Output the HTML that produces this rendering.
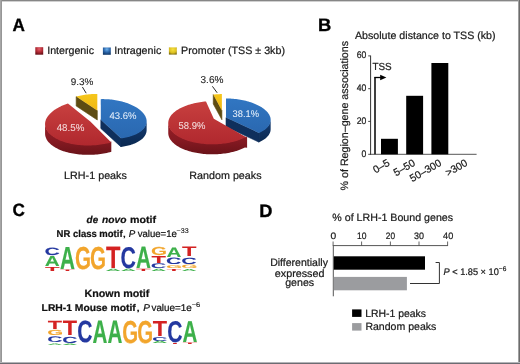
<!DOCTYPE html>
<html><head><meta charset="utf-8"><title>LRH-1 figure</title>
<style>html,body{margin:0;padding:0;background:#fff;}svg{display:block;}</style>
</head><body>
<svg width="520" height="364" viewBox="0 0 520 364" font-family="'Liberation Sans', Arial, Helvetica, sans-serif" text-rendering="geometricPrecision">
<defs>
<linearGradient id="gr" x1="0" y1="0" x2="0" y2="1"><stop offset="0" stop-color="#c8403f"/><stop offset="1" stop-color="#b0282e"/></linearGradient>
<linearGradient id="grw" x1="0" y1="0" x2="0" y2="1"><stop offset="0" stop-color="#941e26"/><stop offset="0.55" stop-color="#861a22"/><stop offset="1" stop-color="#6a1319"/></linearGradient>
<linearGradient id="gb" x1="0" y1="0" x2="0" y2="1"><stop offset="0" stop-color="#3176c2"/><stop offset="1" stop-color="#2a68b0"/></linearGradient>
<linearGradient id="gbw" x1="0" y1="0" x2="0" y2="1"><stop offset="0" stop-color="#153c72"/><stop offset="1" stop-color="#0a2850"/></linearGradient>
<linearGradient id="gy" x1="0" y1="0" x2="0" y2="1"><stop offset="0" stop-color="#f5c61c"/><stop offset="1" stop-color="#f0b810"/></linearGradient>
<radialGradient id="lr" cx="0.5" cy="0.25" r="0.75"><stop offset="0" stop-color="#e4606c"/><stop offset="0.55" stop-color="#b22a34"/><stop offset="1" stop-color="#6a1018"/></radialGradient>
<radialGradient id="lb" cx="0.5" cy="0.25" r="0.75"><stop offset="0" stop-color="#6cb0ec"/><stop offset="0.55" stop-color="#2a64a8"/><stop offset="1" stop-color="#123a6a"/></radialGradient>
<radialGradient id="ly" cx="0.5" cy="0.3" r="0.75"><stop offset="0" stop-color="#f6e040"/><stop offset="0.6" stop-color="#dcc020"/><stop offset="1" stop-color="#7a6a10"/></radialGradient>
</defs>
<rect x="0" y="0" width="520" height="364" fill="#fff"/>
<polygon points="97.30,110.60 76.17,96.61 76.17,106.01 97.30,120.00" fill="#5e4c12" stroke="#5e4c12" stroke-width="0.6" stroke-linejoin="round"/>
<polygon points="97.30,110.60 97.30,93.90 95.90,93.91 94.51,93.94 93.12,94.00 91.73,94.07 90.36,94.17 88.99,94.29 87.63,94.43 86.28,94.59 84.95,94.77 83.64,94.98 82.34,95.20 81.06,95.44 79.80,95.71 78.57,95.99 77.36,96.29 76.17,96.61" fill="url(#gy)"/>
<polygon points="100.80,119.80 121.00,138.29 121.00,146.89 100.80,128.40" fill="#0f2f5c" stroke="#0f2f5c" stroke-width="0.6" stroke-linejoin="round"/>
<polygon points="121.00,137.49 122.27,137.33 123.52,137.14 124.75,136.93 125.96,136.69 127.15,136.43 128.32,136.15 129.46,135.85 130.58,135.53 131.66,135.18 132.72,134.82 133.75,134.43 134.74,134.02 135.71,133.60 136.63,133.15 137.53,132.69 138.38,132.21 139.20,131.71 139.98,131.20 140.72,130.67 141.42,130.12 142.08,129.56 142.70,128.98 143.28,128.40 143.81,127.79 144.29,127.18 144.74,126.56 145.13,125.92 145.49,125.28 145.79,124.63 146.05,123.97 146.26,123.30 146.43,122.63 146.54,121.95 146.61,121.27 146.64,120.58 146.64,129.98 146.61,130.67 146.54,131.35 146.43,132.03 146.26,132.70 146.05,133.37 145.79,134.03 145.49,134.68 145.13,135.32 144.74,135.96 144.29,136.58 143.81,137.19 143.28,137.80 142.70,138.38 142.08,138.96 141.42,139.52 140.72,140.07 139.98,140.60 139.20,141.11 138.38,141.61 137.53,142.09 136.63,142.55 135.71,143.00 134.74,143.42 133.75,143.83 132.72,144.22 131.66,144.58 130.58,144.93 129.46,145.25 128.32,145.55 127.15,145.83 125.96,146.09 124.75,146.33 123.52,146.54 122.27,146.73 121.00,146.89" fill="url(#gbw)"/>
<polygon points="100.80,119.80 121.00,138.29 122.27,138.13 123.52,137.94 124.75,137.73 125.97,137.49 127.16,137.23 128.32,136.95 129.47,136.65 130.58,136.33 131.67,135.98 132.73,135.61 133.75,135.23 134.75,134.82 135.71,134.40 136.64,133.95 137.53,133.49 138.39,133.01 139.21,132.51 139.99,131.99 140.73,131.46 141.43,130.91 142.09,130.35 142.71,129.78 143.28,129.19 143.81,128.59 144.30,127.98 144.74,127.35 145.14,126.72 145.49,126.07 145.79,125.42 146.05,124.76 146.26,124.09 146.43,123.42 146.55,122.74 146.61,122.06 146.64,121.37 146.61,120.68 146.54,119.98 146.42,119.29 146.25,118.60 146.03,117.90 145.77,117.21 145.46,116.52 145.11,115.83 144.70,115.15 144.26,114.47 143.77,113.79 143.23,113.13 142.65,112.47 142.03,111.81 141.37,111.17 140.67,110.54 139.92,109.91 139.14,109.30 138.32,108.70 137.46,108.11 136.56,107.54 135.63,106.98 134.66,106.43 133.66,105.90 132.63,105.38 131.57,104.88 130.48,104.40 129.37,103.94 128.22,103.50 127.05,103.07 125.86,102.66 124.64,102.28 123.41,101.91 122.15,101.57 120.88,101.24 119.59,100.94 118.29,100.66 116.98,100.40 115.65,100.17 114.31,99.96 112.97,99.77 111.62,99.60 110.26,99.46 108.90,99.35 107.54,99.25 106.18,99.18 104.83,99.14 103.47,99.12 102.12,99.12 100.78,99.15" fill="url(#gb)"/>
<polygon points="45.08,123.37 45.11,124.18 45.20,124.98 45.35,125.78 45.55,126.58 45.82,127.37 46.13,128.16 46.51,128.93 46.94,129.70 47.43,130.45 47.97,131.20 48.57,131.93 49.22,132.65 49.92,133.36 50.67,134.05 51.48,134.73 52.33,135.39 53.24,136.03 54.19,136.66 55.18,137.26 56.23,137.85 57.31,138.42 58.44,138.96 59.61,139.49 60.82,139.99 62.07,140.47 63.36,140.93 64.68,141.36 66.03,141.76 67.42,142.15 68.83,142.50 70.27,142.83 71.74,143.13 73.24,143.41 74.75,143.66 76.29,143.88 77.85,144.08 79.42,144.24 81.01,144.38 82.61,144.49 84.22,144.57 85.84,144.62 87.47,144.65 89.10,144.64 90.73,144.61 92.37,144.55 94.01,144.46 95.64,144.34 97.26,144.19 98.88,144.01 100.49,143.81 102.09,143.58 103.67,143.32 105.24,143.03 106.79,142.72 108.33,142.38 109.84,142.01 111.32,141.62 111.32,151.82 109.84,152.21 108.33,152.58 106.79,152.92 105.24,153.23 103.67,153.52 102.09,153.78 100.49,154.01 98.88,154.21 97.26,154.39 95.64,154.54 94.01,154.66 92.37,154.75 90.73,154.81 89.10,154.84 87.47,154.85 85.84,154.82 84.22,154.77 82.61,154.69 81.01,154.58 79.42,154.44 77.85,154.28 76.29,154.08 74.75,153.86 73.24,153.61 71.74,153.33 70.27,153.03 68.83,152.70 67.42,152.35 66.03,151.96 64.68,151.56 63.36,151.13 62.07,150.67 60.82,150.19 59.61,149.69 58.44,149.16 57.31,148.62 56.23,148.05 55.18,147.46 54.19,146.86 53.24,146.23 52.33,145.59 51.48,144.93 50.67,144.25 49.92,143.56 49.22,142.85 48.57,142.13 47.97,141.40 47.43,140.65 46.94,139.90 46.51,139.13 46.13,138.36 45.82,137.57 45.55,136.78 45.35,135.98 45.20,135.18 45.11,134.38 45.08,133.57" fill="url(#grw)"/>
<polygon points="90.30,121.60 67.96,103.52 66.57,103.99 65.21,104.48 63.89,104.99 62.59,105.53 61.34,106.09 60.12,106.67 58.94,107.26 57.80,107.88 56.70,108.51 55.64,109.16 54.63,109.83 53.66,110.51 52.74,111.21 51.87,111.92 51.05,112.65 50.27,113.38 49.55,114.13 48.88,114.89 48.26,115.66 47.69,116.43 47.18,117.22 46.73,118.01 46.32,118.80 45.98,119.60 45.69,120.40 45.45,121.21 45.27,122.02 45.15,122.83 45.09,123.63 45.08,124.44 45.13,125.24 45.24,126.04 45.41,126.84 45.63,127.63 45.91,128.41 46.24,129.19 46.63,129.96 47.08,130.72 47.58,131.47 48.13,132.20 48.74,132.93 49.40,133.64 50.11,134.34 50.87,135.03 51.69,135.69 52.55,136.35 53.46,136.98 54.41,137.60 55.42,138.20 56.46,138.78 57.55,139.34 58.68,139.87 59.85,140.39 61.07,140.89 62.31,141.36 63.60,141.81 64.92,142.23 66.27,142.63 67.65,143.01 69.06,143.36 70.50,143.68 71.96,143.98 73.45,144.25 74.96,144.49 76.49,144.71 78.04,144.90 79.61,145.06 81.19,145.20 82.78,145.30 84.38,145.38 85.99,145.43 87.61,145.45 89.24,145.44 90.86,145.41 92.49,145.34 94.11,145.25 95.73,145.13 97.35,144.98 98.96,144.80 100.56,144.60 102.14,144.37 103.72,144.11 105.28,143.82 106.82,143.51 108.34,143.18 109.84,142.81 111.32,142.42" fill="url(#gr)"/>
<polygon points="221.90,110.40 213.26,94.56 213.26,103.96 221.90,119.80" fill="#5e4c12" stroke="#5e4c12" stroke-width="0.6" stroke-linejoin="round"/>
<polygon points="221.90,110.40 221.90,94.10 220.45,94.11 219.00,94.15 217.55,94.21 216.11,94.30 214.68,94.42 213.26,94.56" fill="url(#gy)"/>
<polygon points="226.00,117.50 259.04,133.02 259.04,142.22 226.00,126.70" fill="#0f2f5c" stroke="#0f2f5c" stroke-width="0.6" stroke-linejoin="round"/>
<polygon points="259.04,132.22 260.02,131.77 260.97,131.30 261.87,130.81 262.74,130.31 263.57,129.79 264.36,129.25 265.10,128.70 265.80,128.14 266.45,127.56 267.07,126.97 267.63,126.37 268.15,125.75 268.62,125.13 269.04,124.50 269.42,123.86 269.75,123.21 270.02,122.55 270.25,121.88 270.43,121.21 270.56,120.54 270.64,119.86 270.66,119.18 270.66,129.18 270.64,129.86 270.56,130.54 270.43,131.21 270.25,131.88 270.02,132.55 269.75,133.21 269.42,133.86 269.04,134.50 268.62,135.13 268.15,135.75 267.63,136.37 267.07,136.97 266.45,137.56 265.80,138.14 265.10,138.70 264.36,139.25 263.57,139.79 262.74,140.31 261.87,140.81 260.97,141.30 260.02,141.77 259.04,142.22" fill="url(#gbw)"/>
<polygon points="226.00,117.50 259.04,133.02 260.03,132.56 260.98,132.09 261.89,131.60 262.77,131.09 263.60,130.57 264.39,130.03 265.14,129.47 265.84,128.90 266.50,128.32 267.11,127.73 267.67,127.12 268.19,126.50 268.66,125.87 269.09,125.23 269.46,124.58 269.78,123.93 270.05,123.27 270.28,122.60 270.45,121.92 270.57,121.24 270.64,120.56 270.66,119.87 270.63,119.18 270.55,118.49 270.42,117.80 270.24,117.11 270.00,116.42 269.72,115.73 269.38,115.04 269.00,114.36 268.57,113.69 268.09,113.01 267.56,112.35 266.99,111.69 266.36,111.04 265.70,110.40 264.98,109.77 264.23,109.15 263.43,108.54 262.59,107.94 261.71,107.36 260.78,106.78 259.82,106.23 258.83,105.68 257.79,105.16 256.72,104.65 255.62,104.15 254.49,103.67 253.32,103.21 252.13,102.77 250.90,102.35 249.65,101.95 248.38,101.57 247.08,101.21 245.76,100.87 244.43,100.55 243.07,100.25 241.70,99.98 240.31,99.73 238.91,99.50 237.49,99.29 236.07,99.11 234.64,98.95 233.21,98.82 231.77,98.70 230.32,98.62 228.88,98.56 227.44,98.52 226.00,98.50" fill="url(#gb)"/>
<polygon points="168.25,122.21 168.28,122.96 168.36,123.72 168.49,124.47 168.68,125.21 168.93,125.95 169.22,126.69 169.57,127.42 169.97,128.15 170.43,128.87 170.93,129.57 171.49,130.27 172.10,130.96 172.76,131.64 173.46,132.31 174.22,132.96 175.02,133.60 175.87,134.23 176.76,134.84 177.70,135.44 178.67,136.02 179.70,136.58 180.76,137.12 181.86,137.65 183.00,138.16 184.17,138.64 185.38,139.11 186.62,139.55 187.90,139.98 189.20,140.38 190.54,140.76 191.90,141.12 193.28,141.45 194.69,141.76 196.13,142.04 197.58,142.31 199.05,142.54 200.54,142.75 202.04,142.94 203.56,143.10 205.09,143.23 206.63,143.34 208.17,143.42 209.72,143.48 211.27,143.51 212.83,143.51 214.39,143.49 215.94,143.44 217.49,143.36 219.04,143.26 220.57,143.13 222.10,142.98 223.62,142.80 225.12,142.60 226.61,142.37 228.08,142.11 229.53,141.83 230.97,141.53 232.38,141.20 233.76,140.85 235.13,140.48 236.46,140.08 237.77,139.66 239.04,139.22 240.28,138.76 241.49,138.28 242.67,137.78 243.80,137.26 244.90,136.72 247.10,136.90 247.10,147.70 244.90,147.52 243.80,148.06 242.67,148.58 241.49,149.08 240.28,149.56 239.04,150.02 237.77,150.46 236.46,150.88 235.13,151.28 233.76,151.65 232.38,152.00 230.97,152.33 229.53,152.63 228.08,152.91 226.61,153.17 225.12,153.40 223.62,153.60 222.10,153.78 220.57,153.93 219.04,154.06 217.49,154.16 215.94,154.24 214.39,154.29 212.83,154.31 211.27,154.31 209.72,154.28 208.17,154.22 206.63,154.14 205.09,154.03 203.56,153.90 202.04,153.74 200.54,153.55 199.05,153.34 197.58,153.11 196.13,152.84 194.69,152.56 193.28,152.25 191.90,151.92 190.54,151.56 189.20,151.18 187.90,150.78 186.62,150.35 185.38,149.91 184.17,149.44 183.00,148.96 181.86,148.45 180.76,147.92 179.70,147.38 178.67,146.82 177.70,146.24 176.76,145.64 175.87,145.03 175.02,144.40 174.22,143.76 173.46,143.11 172.76,142.44 172.10,141.76 171.49,141.07 170.93,140.37 170.43,139.67 169.97,138.95 169.57,138.22 169.22,137.49 168.93,136.75 168.68,136.01 168.49,135.27 168.36,134.52 168.28,133.76 168.25,133.01" fill="url(#grw)"/>
<polygon points="213.80,118.80 206.01,101.47 204.47,101.60 202.94,101.77 201.42,101.96 199.91,102.18 198.42,102.42 196.95,102.68 195.50,102.98 194.07,103.29 192.66,103.63 191.28,103.99 189.92,104.38 188.59,104.79 187.29,105.22 186.03,105.67 184.79,106.15 183.59,106.64 182.43,107.15 181.31,107.69 180.22,108.24 179.17,108.81 178.17,109.39 177.21,110.00 176.29,110.62 175.41,111.25 174.59,111.90 173.81,112.56 173.07,113.23 172.39,113.92 171.76,114.61 171.17,115.32 170.64,116.04 170.16,116.76 169.74,117.49 169.36,118.23 169.04,118.97 168.78,119.72 168.56,120.47 168.41,121.22 168.30,121.98 168.25,122.74 168.26,123.49 168.32,124.25 168.44,125.01 168.61,125.76 168.84,126.50 169.12,127.25 169.45,127.99 169.84,128.72 170.28,129.44 170.77,130.16 171.32,130.86 171.91,131.56 172.56,132.24 173.25,132.92 174.00,133.58 174.79,134.23 175.63,134.86 176.52,135.48 177.45,136.08 178.42,136.67 179.44,137.24 180.49,137.79 181.59,138.32 182.72,138.84 183.90,139.33 185.10,139.81 186.35,140.26 187.62,140.69 188.93,141.10 190.26,141.48 191.63,141.85 193.02,142.19 194.43,142.50 195.87,142.79 197.32,143.06 198.80,143.30 200.29,143.52 201.80,143.71 203.32,143.87 204.86,144.01 206.40,144.13 207.96,144.21 209.51,144.27 211.08,144.30 212.64,144.31 214.20,144.29 215.77,144.25 217.33,144.17 218.88,144.07 220.43,143.95 221.96,143.80 223.49,143.62 225.00,143.41 226.50,143.19 227.98,142.93 229.44,142.65 230.88,142.35 232.30,142.02 233.70,141.67 235.07,141.30 236.41,140.90 237.72,140.48 239.01,140.04 240.26,139.57 241.47,139.09 242.65,138.58 243.80,138.06 244.90,137.52 247.10,137.70" fill="url(#gr)"/>
<text transform="translate(70.73 85.00) scale(1.0277 1)" fill="#1e1e1e" stroke="#1e1e1e" stroke-width="0.1"><tspan font-size="9.7">9.3%</tspan></text>
<line x1="82.4" y1="87.0" x2="86.2" y2="93.2" stroke="#2a2a2a" stroke-width="1"/>
<text transform="translate(200.52 83.00) scale(1.0065 1)" fill="#1e1e1e" stroke="#1e1e1e" stroke-width="0.1"><tspan font-size="10">3.6%</tspan></text>
<line x1="212.4" y1="86.3" x2="217.2" y2="92.8" stroke="#2a2a2a" stroke-width="1"/>
<text transform="translate(109.38 119.00) scale(0.9838 1)" fill="#e4eefa" stroke="#e4eefa" stroke-width="0.05"><tspan font-size="9.7">43.6%</tspan></text>
<text transform="translate(56.68 131.00) scale(0.9759 1)" fill="#f4dcdc" stroke="#f4dcdc" stroke-width="0.05"><tspan font-size="10">48.5%</tspan></text>
<text transform="translate(232.54 117.00) scale(0.9631 1)" fill="#e4eefa" stroke="#e4eefa" stroke-width="0.05"><tspan font-size="9.7">38.1%</tspan></text>
<text transform="translate(178.52 129.00) scale(0.9457 1)" fill="#f4dcdc" stroke="#f4dcdc" stroke-width="0.05"><tspan font-size="10">58.9%</tspan></text>
<text transform="translate(12.42 31.15) scale(0.9576 1)" fill="#000" stroke="#000" stroke-width="0.35"><tspan font-size="17.9" font-weight="bold">A</tspan></text>
<rect x="35.3" y="47.2" width="7.9" height="7.5" fill="url(#lr)"/>
<rect x="102.9" y="47.5" width="7.9" height="7.3" fill="url(#lb)"/>
<rect x="168.9" y="47.4" width="7.9" height="7.2" fill="url(#ly)"/>
<text transform="translate(47.22 54.10)" fill="#1a1a1a" stroke="#1a1a1a" stroke-width="0.22"><tspan font-size="10.65">Intergenic</tspan></text>
<text transform="translate(114.26 54.10) scale(1.0053 1)" fill="#1a1a1a" stroke="#1a1a1a" stroke-width="0.22"><tspan font-size="10.65">Intragenic</tspan></text>
<text transform="translate(181.12 54.10) scale(1.0043 1)" fill="#1a1a1a" stroke="#1a1a1a" stroke-width="0.22"><tspan font-size="10.65">Promoter (TSS ± 3kb)</tspan></text>
<text transform="translate(64.12 178.75) scale(1.0099 1)" fill="#1a1a1a" stroke="#1a1a1a" stroke-width="0.22"><tspan font-size="10.65">LRH-1 peaks</tspan></text>
<text transform="translate(189.37 178.75) scale(1.0082 1)" fill="#1a1a1a" stroke="#1a1a1a" stroke-width="0.22"><tspan font-size="10.65">Random peaks</tspan></text>
<text transform="translate(317.92 31.00) scale(1.0260 1)" fill="#000" stroke="#000" stroke-width="0.35"><tspan font-size="17.9" font-weight="bold">B</tspan></text>
<text transform="translate(354.98 39.20)" fill="#1a1a1a" stroke="#1a1a1a" stroke-width="0.22"><tspan font-size="10.65">Absolute distance to TSS (kb)</tspan></text>
<g transform="translate(0 0)">
<text transform="translate(347.7 190.38) rotate(-90) scale(1.0021 1)" font-size="10.65" fill="#1a1a1a" stroke="#1a1a1a" stroke-width="0.22">% of Region&#8211;gene associations</text>
</g>
<line x1="370.6" y1="55.6" x2="370.6" y2="154.8" stroke="#333" stroke-width="1"/>
<line x1="370.1" y1="154.3" x2="476.6" y2="154.3" stroke="#444" stroke-width="0.9"/>
<line x1="368.2" y1="154.3" x2="370.6" y2="154.3" stroke="#333" stroke-width="0.9"/>
<text transform="translate(361.53 156.60) scale(0.9000 1)" fill="#1a1a1a" stroke="#1a1a1a" stroke-width="0.22"><tspan font-size="9.6">0</tspan></text>
<line x1="368.2" y1="121.4" x2="370.6" y2="121.4" stroke="#333" stroke-width="0.9"/>
<text transform="translate(356.73 123.70) scale(0.9000 1)" fill="#1a1a1a" stroke="#1a1a1a" stroke-width="0.22"><tspan font-size="9.6">20</tspan></text>
<line x1="368.2" y1="88.7" x2="370.6" y2="88.7" stroke="#333" stroke-width="0.9"/>
<text transform="translate(356.73 91.00) scale(0.9000 1)" fill="#1a1a1a" stroke="#1a1a1a" stroke-width="0.22"><tspan font-size="9.6">40</tspan></text>
<line x1="368.2" y1="55.9" x2="370.6" y2="55.9" stroke="#333" stroke-width="0.9"/>
<text transform="translate(356.73 58.20) scale(0.9000 1)" fill="#1a1a1a" stroke="#1a1a1a" stroke-width="0.22"><tspan font-size="9.6">60</tspan></text>
<rect x="381" y="138.8" width="16.9" height="15.5" fill="#000"/>
<rect x="406.2" y="95.8" width="16.9" height="58.5" fill="#000"/>
<rect x="431.4" y="63.0" width="16.9" height="91.3" fill="#000"/>
<line x1="375.0" y1="77.2" x2="375.0" y2="154.3" stroke="#000" stroke-width="1.5"/>
<line x1="374.3" y1="77.5" x2="381" y2="77.5" stroke="#000" stroke-width="1.3"/>
<polygon points="380.2,74.8 386.4,77.5 380.2,80.2" fill="#000"/>
<text transform="translate(372.38 69.70) scale(0.9718 1)" fill="#1a1a1a" stroke="#1a1a1a" stroke-width="0.22"><tspan font-size="10.2">TSS</tspan></text>
<text transform="translate(390.6 164.9) rotate(-30)" font-size="10.4" fill="#1a1a1a" stroke="#1a1a1a" stroke-width="0.22" text-anchor="end">0&#8211;5</text>
<text transform="translate(416.0 164.9) rotate(-30)" font-size="10.4" fill="#1a1a1a" stroke="#1a1a1a" stroke-width="0.22" text-anchor="end">5&#8211;50</text>
<text transform="translate(442.3 164.9) rotate(-30)" font-size="10.4" fill="#1a1a1a" stroke="#1a1a1a" stroke-width="0.22" text-anchor="end">50&#8211;300</text>
<text transform="translate(468.3 164.9) rotate(-30)" font-size="10.4" fill="#1a1a1a" stroke="#1a1a1a" stroke-width="0.22" text-anchor="end">&gt;300</text>
<text transform="translate(12.45 216.40) scale(0.9624 1)" fill="#000" stroke="#000" stroke-width="0.35"><tspan font-size="17.8" font-weight="bold">C</tspan></text>
<text transform="translate(86.62 223.00) scale(0.9957 1)" fill="#111" stroke="#111" stroke-width="0.22"><tspan font-size="9.9" font-weight="bold" font-style="italic">de</tspan></text>
<text transform="translate(102.03 223.00) scale(1.0320 1)" fill="#111" stroke="#111" stroke-width="0.22"><tspan font-size="9.9" font-weight="bold" font-style="italic">novo</tspan></text>
<text transform="translate(130.10 223.00) scale(1.0781 1)" fill="#111" stroke="#111" stroke-width="0.22"><tspan font-size="9.9" font-weight="bold">motif</tspan></text>
<text transform="translate(56.61 236.90) scale(0.9690 1)" fill="#111" stroke="#111" stroke-width="0.22"><tspan font-size="9.8" font-weight="bold">NR class motif</tspan></text>
<text transform="translate(122.61 236.90) scale(1.3516 1)" fill="#111" stroke="#111" stroke-width="0.22"><tspan font-size="9.8">,</tspan></text>
<text transform="translate(128.80 236.90) scale(0.9882 1)" fill="#111" stroke="#111" stroke-width="0.22"><tspan font-size="9.8" font-style="italic">P</tspan></text>
<text transform="translate(137.67 236.90) scale(0.9777 1)" fill="#111" stroke="#111" stroke-width="0.22"><tspan font-size="9.8">value=1e</tspan></text>
<text transform="translate(176.55 233.00) scale(1.0307 1)" fill="#111" stroke="#111" stroke-width="0.12"><tspan font-size="6.9">−33</tspan></text>
<text transform="translate(84.53 296.80) scale(1.0193 1)" fill="#111" stroke="#111" stroke-width="0.22"><tspan font-size="10.5" font-weight="bold">Known motif</tspan></text>
<text transform="translate(41.56 310.60) scale(1.0553 1)" fill="#111" stroke="#111" stroke-width="0.22"><tspan font-size="9.8" font-weight="bold">LRH-1 Mouse motif</tspan></text>
<text transform="translate(135.93 310.60) scale(1.5595 1)" fill="#111" stroke="#111" stroke-width="0.22"><tspan font-size="9.8">,</tspan></text>
<text transform="translate(143.19 310.60) scale(1.0206 1)" fill="#111" stroke="#111" stroke-width="0.22"><tspan font-size="9.8" font-style="italic">P</tspan></text>
<text transform="translate(151.47 310.60) scale(1.0042 1)" fill="#111" stroke="#111" stroke-width="0.22"><tspan font-size="9.8">value=1e</tspan></text>
<text transform="translate(191.63 306.70) scale(1.0729 1)" fill="#111" stroke="#111" stroke-width="0.12"><tspan font-size="6.9">−6</tspan></text>
<text transform="translate(44.43 255.10) scale(0.2126 0.1059)" font-size="100" font-weight="bold" fill="#2438a0" stroke="#2438a0" stroke-width="0.60" vector-effect="non-scaling-stroke" stroke-linejoin="round">C</text>
<text transform="translate(44.78 266.40) scale(0.2072 0.1453)" font-size="100" font-weight="bold" fill="#3db04a" stroke="#3db04a" stroke-width="0.60" vector-effect="non-scaling-stroke" stroke-linejoin="round">A</text>
<text transform="translate(44.93 270.90) scale(0.2395 0.0582)" font-size="100" font-weight="bold" fill="#d42222" stroke="#d42222" stroke-width="0.40" vector-effect="non-scaling-stroke" stroke-linejoin="round">T</text>
<text transform="translate(59.99 269.10) scale(0.2072 0.3198)" font-size="100" font-weight="bold" fill="#3db04a" stroke="#3db04a" stroke-width="0.60" vector-effect="non-scaling-stroke" stroke-linejoin="round">A</text>
<text transform="translate(60.02 271.32) scale(0.2435 0.0238)" font-size="100" font-weight="bold" fill="#d42222" stroke="#d42222" stroke-width="0.16" vector-effect="non-scaling-stroke" stroke-linejoin="round">T</text>
<text transform="translate(74.88 269.29) scale(0.2060 0.3178)" font-size="100" font-weight="bold" fill="#f2a52c" stroke="#f2a52c" stroke-width="0.60" vector-effect="non-scaling-stroke" stroke-linejoin="round">G</text>
<text transform="translate(90.09 269.29) scale(0.2060 0.3178)" font-size="100" font-weight="bold" fill="#f2a52c" stroke="#f2a52c" stroke-width="0.60" vector-effect="non-scaling-stroke" stroke-linejoin="round">G</text>
<text transform="translate(105.88 268.30) scale(0.2360 0.3081)" font-size="100" font-weight="bold" fill="#d42222" stroke="#d42222" stroke-width="0.60" vector-effect="non-scaling-stroke" stroke-linejoin="round">T</text>
<text transform="translate(105.43 271.28) scale(0.2126 0.0344)" font-size="100" font-weight="bold" fill="#3db04a" stroke="#3db04a" stroke-width="0.23" vector-effect="non-scaling-stroke" stroke-linejoin="round">A</text>
<text transform="translate(120.48 268.01) scale(0.2126 0.2994)" font-size="100" font-weight="bold" fill="#2438a0" stroke="#2438a0" stroke-width="0.60" vector-effect="non-scaling-stroke" stroke-linejoin="round">C</text>
<text transform="translate(120.64 271.28) scale(0.2126 0.0344)" font-size="100" font-weight="bold" fill="#3db04a" stroke="#3db04a" stroke-width="0.23" vector-effect="non-scaling-stroke" stroke-linejoin="round">A</text>
<text transform="translate(136.04 268.30) scale(0.2072 0.3081)" font-size="100" font-weight="bold" fill="#3db04a" stroke="#3db04a" stroke-width="0.60" vector-effect="non-scaling-stroke" stroke-linejoin="round">A</text>
<text transform="translate(136.10 271.09) scale(0.2426 0.0317)" font-size="100" font-weight="bold" fill="#d42222" stroke="#d42222" stroke-width="0.22" vector-effect="non-scaling-stroke" stroke-linejoin="round">T</text>
<text transform="translate(150.93 254.69) scale(0.2060 0.1158)" font-size="100" font-weight="bold" fill="#f2a52c" stroke="#f2a52c" stroke-width="0.60" vector-effect="non-scaling-stroke" stroke-linejoin="round">G</text>
<text transform="translate(151.51 262.50) scale(0.2360 0.1017)" font-size="100" font-weight="bold" fill="#d42222" stroke="#d42222" stroke-width="0.60" vector-effect="non-scaling-stroke" stroke-linejoin="round">T</text>
<text transform="translate(150.83 268.29) scale(0.2145 0.0681)" font-size="100" font-weight="bold" fill="#2438a0" stroke="#2438a0" stroke-width="0.48" vector-effect="non-scaling-stroke" stroke-linejoin="round">C</text>
<text transform="translate(151.06 271.48) scale(0.2126 0.0344)" font-size="100" font-weight="bold" fill="#3db04a" stroke="#3db04a" stroke-width="0.23" vector-effect="non-scaling-stroke" stroke-linejoin="round">A</text>
<text transform="translate(166.46 256.60) scale(0.2072 0.1381)" font-size="100" font-weight="bold" fill="#3db04a" stroke="#3db04a" stroke-width="0.60" vector-effect="non-scaling-stroke" stroke-linejoin="round">A</text>
<text transform="translate(166.11 264.41) scale(0.2126 0.0932)" font-size="100" font-weight="bold" fill="#2438a0" stroke="#2438a0" stroke-width="0.60" vector-effect="non-scaling-stroke" stroke-linejoin="round">C</text>
<text transform="translate(165.95 267.83) scale(0.2109 0.0386)" font-size="100" font-weight="bold" fill="#f2a52c" stroke="#f2a52c" stroke-width="0.27" vector-effect="non-scaling-stroke" stroke-linejoin="round">G</text>
<text transform="translate(166.51 271.10) scale(0.2427 0.0304)" font-size="100" font-weight="bold" fill="#d42222" stroke="#d42222" stroke-width="0.21" vector-effect="non-scaling-stroke" stroke-linejoin="round">T</text>
<text transform="translate(181.93 256.10) scale(0.2360 0.1381)" font-size="100" font-weight="bold" fill="#d42222" stroke="#d42222" stroke-width="0.60" vector-effect="non-scaling-stroke" stroke-linejoin="round">T</text>
<text transform="translate(181.32 263.51) scale(0.2126 0.0904)" font-size="100" font-weight="bold" fill="#2438a0" stroke="#2438a0" stroke-width="0.60" vector-effect="non-scaling-stroke" stroke-linejoin="round">C</text>
<text transform="translate(181.21 267.98) scale(0.2097 0.0501)" font-size="100" font-weight="bold" fill="#f2a52c" stroke="#f2a52c" stroke-width="0.35" vector-effect="non-scaling-stroke" stroke-linejoin="round">G</text>
<text transform="translate(181.46 270.80) scale(0.2130 0.0304)" font-size="100" font-weight="bold" fill="#3db04a" stroke="#3db04a" stroke-width="0.21" vector-effect="non-scaling-stroke" stroke-linejoin="round">A</text>
<text transform="translate(47.79 329.00) scale(0.2343 0.1192)" font-size="100" font-weight="bold" fill="#d42222" stroke="#d42222" stroke-width="0.60" vector-effect="non-scaling-stroke" stroke-linejoin="round">T</text>
<text transform="translate(47.16 335.27) scale(0.2058 0.0733)" font-size="100" font-weight="bold" fill="#f2a52c" stroke="#f2a52c" stroke-width="0.51" vector-effect="non-scaling-stroke" stroke-linejoin="round">G</text>
<text transform="translate(47.17 342.43) scale(0.2114 0.0823)" font-size="100" font-weight="bold" fill="#2438a0" stroke="#2438a0" stroke-width="0.58" vector-effect="non-scaling-stroke" stroke-linejoin="round">C</text>
<text transform="translate(47.30 345.12) scale(0.2122 0.0238)" font-size="100" font-weight="bold" fill="#3db04a" stroke="#3db04a" stroke-width="0.16" vector-effect="non-scaling-stroke" stroke-linejoin="round">A</text>
<text transform="translate(62.79 335.20) scale(0.2343 0.2093)" font-size="100" font-weight="bold" fill="#d42222" stroke="#d42222" stroke-width="0.60" vector-effect="non-scaling-stroke" stroke-linejoin="round">T</text>
<text transform="translate(62.18 342.61) scale(0.2111 0.0890)" font-size="100" font-weight="bold" fill="#2438a0" stroke="#2438a0" stroke-width="0.60" vector-effect="non-scaling-stroke" stroke-linejoin="round">C</text>
<text transform="translate(62.29 344.93) scale(0.2125 0.0212)" font-size="100" font-weight="bold" fill="#3db04a" stroke="#3db04a" stroke-width="0.14" vector-effect="non-scaling-stroke" stroke-linejoin="round">A</text>
<text transform="translate(77.18 342.40) scale(0.2111 0.3093)" font-size="100" font-weight="bold" fill="#2438a0" stroke="#2438a0" stroke-width="0.60" vector-effect="non-scaling-stroke" stroke-linejoin="round">C</text>
<text transform="translate(92.54 343.30) scale(0.2057 0.3270)" font-size="100" font-weight="bold" fill="#3db04a" stroke="#3db04a" stroke-width="0.60" vector-effect="non-scaling-stroke" stroke-linejoin="round">A</text>
<text transform="translate(107.54 343.30) scale(0.2057 0.3270)" font-size="100" font-weight="bold" fill="#3db04a" stroke="#3db04a" stroke-width="0.60" vector-effect="non-scaling-stroke" stroke-linejoin="round">A</text>
<text transform="translate(122.21 342.99) scale(0.2045 0.3178)" font-size="100" font-weight="bold" fill="#f2a52c" stroke="#f2a52c" stroke-width="0.60" vector-effect="non-scaling-stroke" stroke-linejoin="round">G</text>
<text transform="translate(137.21 342.99) scale(0.2045 0.3178)" font-size="100" font-weight="bold" fill="#f2a52c" stroke="#f2a52c" stroke-width="0.60" vector-effect="non-scaling-stroke" stroke-linejoin="round">G</text>
<text transform="translate(152.79 335.80) scale(0.2343 0.2180)" font-size="100" font-weight="bold" fill="#d42222" stroke="#d42222" stroke-width="0.60" vector-effect="non-scaling-stroke" stroke-linejoin="round">T</text>
<text transform="translate(152.06 340.55) scale(0.2143 0.0553)" font-size="100" font-weight="bold" fill="#2438a0" stroke="#2438a0" stroke-width="0.39" vector-effect="non-scaling-stroke" stroke-linejoin="round">C</text>
<text transform="translate(152.34 343.48) scale(0.2111 0.0344)" font-size="100" font-weight="bold" fill="#3db04a" stroke="#3db04a" stroke-width="0.23" vector-effect="non-scaling-stroke" stroke-linejoin="round">A</text>
<text transform="translate(167.18 341.81) scale(0.2111 0.3008)" font-size="100" font-weight="bold" fill="#2438a0" stroke="#2438a0" stroke-width="0.60" vector-effect="non-scaling-stroke" stroke-linejoin="round">C</text>
<text transform="translate(167.53 343.75) scale(0.2427 0.0159)" font-size="100" font-weight="bold" fill="#d42222" stroke="#d42222" stroke-width="0.11" vector-effect="non-scaling-stroke" stroke-linejoin="round">T</text>
<text transform="translate(182.54 341.50) scale(0.2057 0.3009)" font-size="100" font-weight="bold" fill="#3db04a" stroke="#3db04a" stroke-width="0.60" vector-effect="non-scaling-stroke" stroke-linejoin="round">A</text>
<text transform="translate(182.56 343.72) scale(0.2419 0.0225)" font-size="100" font-weight="bold" fill="#d42222" stroke="#d42222" stroke-width="0.15" vector-effect="non-scaling-stroke" stroke-linejoin="round">T</text>
<text transform="translate(259.18 216.60) scale(1.0146 1)" fill="#000" stroke="#000" stroke-width="0.35"><tspan font-size="18" font-weight="bold">D</tspan></text>
<text transform="translate(332.37 221.25)" fill="#1a1a1a" stroke="#1a1a1a" stroke-width="0.22"><tspan font-size="10.65">% of LRH-1 Bound genes</tspan></text>
<line x1="333" y1="245.6" x2="447.9" y2="245.6" stroke="#555" stroke-width="1"/>
<line x1="333.1" y1="241.5" x2="333.1" y2="246" stroke="#555" stroke-width="0.9"/>
<text transform="translate(330.50 238.80) scale(1.0905 1)" fill="#1a1a1a" stroke="#1a1a1a" stroke-width="0.22"><tspan font-size="9.4">0</tspan></text>
<line x1="361.6" y1="241.5" x2="361.6" y2="246" stroke="#555" stroke-width="0.9"/>
<text transform="translate(356.95 238.80) scale(0.9069 1)" fill="#1a1a1a" stroke="#1a1a1a" stroke-width="0.22"><tspan font-size="9.4">10</tspan></text>
<line x1="390.4" y1="241.5" x2="390.4" y2="246" stroke="#555" stroke-width="0.9"/>
<text transform="translate(385.83 238.80) scale(0.8840 1)" fill="#1a1a1a" stroke="#1a1a1a" stroke-width="0.22"><tspan font-size="9.4">20</tspan></text>
<line x1="419.0" y1="241.5" x2="419.0" y2="246" stroke="#555" stroke-width="0.9"/>
<text transform="translate(414.11 238.80) scale(0.9558 1)" fill="#1a1a1a" stroke="#1a1a1a" stroke-width="0.22"><tspan font-size="9.4">30</tspan></text>
<line x1="447.6" y1="241.5" x2="447.6" y2="246" stroke="#555" stroke-width="0.9"/>
<text transform="translate(443.09 238.80) scale(0.9724 1)" fill="#1a1a1a" stroke="#1a1a1a" stroke-width="0.22"><tspan font-size="9.4">40</tspan></text>
<line x1="333.3" y1="245.6" x2="333.3" y2="296.3" stroke="#555" stroke-width="1"/>
<rect x="333.8" y="256.3" width="91.2" height="13.4" fill="#000"/>
<rect x="333.8" y="276.9" width="73.1" height="13.4" fill="#9b9c9f"/>
<polyline points="435.6,262.5 439.4,262.5 439.4,283.5 410,283.5" fill="none" stroke="#333" stroke-width="1"/>
<text transform="translate(443.47 274.60) scale(0.9606 1)" fill="#1a1a1a" stroke="#1a1a1a" stroke-width="0.22"><tspan font-size="9.6" font-style="italic">P</tspan><tspan font-size="9.6"> &lt; 1.85 × 10</tspan><tspan font-size="6.8" dy="-3.8">−6</tspan></text>
<text transform="translate(270.14 266.25) scale(0.9942 1)" fill="#1a1a1a" stroke="#1a1a1a" stroke-width="0.22"><tspan font-size="10.6">Differentially</tspan></text>
<text transform="translate(274.79 277.25) scale(1.0152 1)" fill="#1a1a1a" stroke="#1a1a1a" stroke-width="0.22"><tspan font-size="10.6">expressed</tspan></text>
<text transform="translate(285.18 286.25) scale(1.0035 1)" fill="#1a1a1a" stroke="#1a1a1a" stroke-width="0.22"><tspan font-size="10.6">genes</tspan></text>
<rect x="352.1" y="309.4" width="9.4" height="7.5" fill="#000"/>
<rect x="352.1" y="323.1" width="9.4" height="7.5" fill="#9b9c9f"/>
<text transform="translate(365.14 316.60) scale(0.9927 1)" fill="#1a1a1a" stroke="#1a1a1a" stroke-width="0.22"><tspan font-size="10.5">LRH-1 peaks</tspan></text>
<text transform="translate(365.38 330.00) scale(1.0053 1)" fill="#1a1a1a" stroke="#1a1a1a" stroke-width="0.22"><tspan font-size="10.5">Random peaks</tspan></text>
<rect x="0" y="0" width="520" height="1" fill="#868686"/>
<rect x="0" y="1" width="520" height="1" fill="#d0d0d0"/>
<rect x="0" y="0" width="1" height="364" fill="#a6a6a6"/>
<rect x="1" y="0" width="1" height="364" fill="#969696"/>
<rect x="518" y="0" width="1" height="364" fill="#a0a0a0"/>
<rect x="519" y="0" width="1" height="364" fill="#6c6c6c"/>
<rect x="0" y="362" width="520" height="1" fill="#b4b4b8"/>
<rect x="0" y="363" width="520" height="1" fill="#6c6c72"/>
</svg>
</body></html>
